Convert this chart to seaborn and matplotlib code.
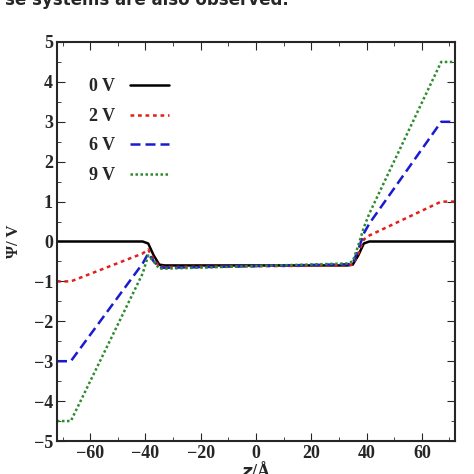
import numpy as np
import pandas as pd
import seaborn as sns
import matplotlib.pyplot as plt
from matplotlib.ticker import MultipleLocator

z = [-72, -67, -41, -39, -37, -35, -33, 33, 35, 37, 39, 41, 67, 72]
psi_0v = [0, 0, 0, -0.05, -0.35, -0.58, -0.6, -0.6, -0.58, -0.35, -0.05, 0, 0, 0]
psi_2v = [-1, -1, -0.3, -0.2, -0.45, -0.62, -0.64, -0.6, -0.58, -0.3, 0.05, 0.15, 1, 1]
psi_6v = [-3, -3, -0.55, -0.3, -0.5, -0.65, -0.66, -0.57, -0.55, -0.2, 0.2, 0.45, 3, 3]
psi_9v = [-4.5, -4.5, -0.8, -0.35, -0.5, -0.68, -0.68, -0.55, -0.5, -0.1, 0.35, 0.7, 4.5, 4.5]
labels = ['0 V', '2 V', '6 V', '9 V']

df = pd.DataFrame({'z': z * 4,
                   'psi': psi_0v + psi_2v + psi_6v + psi_9v,
                   'bias': np.repeat(labels, len(z))})

sns.set_style('ticks')
plt.rcParams['font.family'] = ['Liberation Serif', 'DejaVu Serif']
plt.rcParams['font.weight'] = 'bold'

fig = plt.figure(figsize=(4.74, 4.74), dpi=100)
ax = fig.add_axes([57 / 474, 33 / 474, 398 / 474, 399 / 474])
sns.lineplot(data=df, x='z', y='psi', hue='bias', style='bias',
             palette=['black', '#e0201b', '#1a1ad0', '#2e8b2e'],
             dashes=[(None, None), (1.5, 1.5), (4, 2), (1, 1)],
             linewidth=1.8, ax=ax)
ax.set(xlim=(-72, 72), ylim=(-5, 5), xlabel='', ylabel='')
ax.set_xticks([-60, -40, -20, 0, 20, 40, 60])
ax.set_yticks(range(-5, 6))
ax.xaxis.set_minor_locator(MultipleLocator(10))
ax.yaxis.set_minor_locator(MultipleLocator(0.5))
ax.tick_params(which='both', direction='in', top=True, right=True, labelsize=13, pad=3)
ax.tick_params(which='major', length=6)
ax.tick_params(which='minor', length=3)
ax.set_ylabel('Ψ/ V', fontsize=12, fontweight='bold', labelpad=8)
ax.set_xlabel(r'$\mathbf{\it{z}}$/Å', fontsize=13, fontweight='bold', labelpad=-1)
for s in ax.spines.values():
    s.set_linewidth(1.5)
ax.legend(loc='upper left', bbox_to_anchor=(0.04, 0.95), frameon=False,
          markerfirst=False, handlelength=2.2, labelspacing=0.7,
          prop={'weight': 'bold', 'size': 13})
fig.text(0.01, 1.0, 'se systems are also observed.', fontsize=12, va='center',
         family='DejaVu Sans', fontweight='bold')
fig.savefig('out.png', dpi=100)
